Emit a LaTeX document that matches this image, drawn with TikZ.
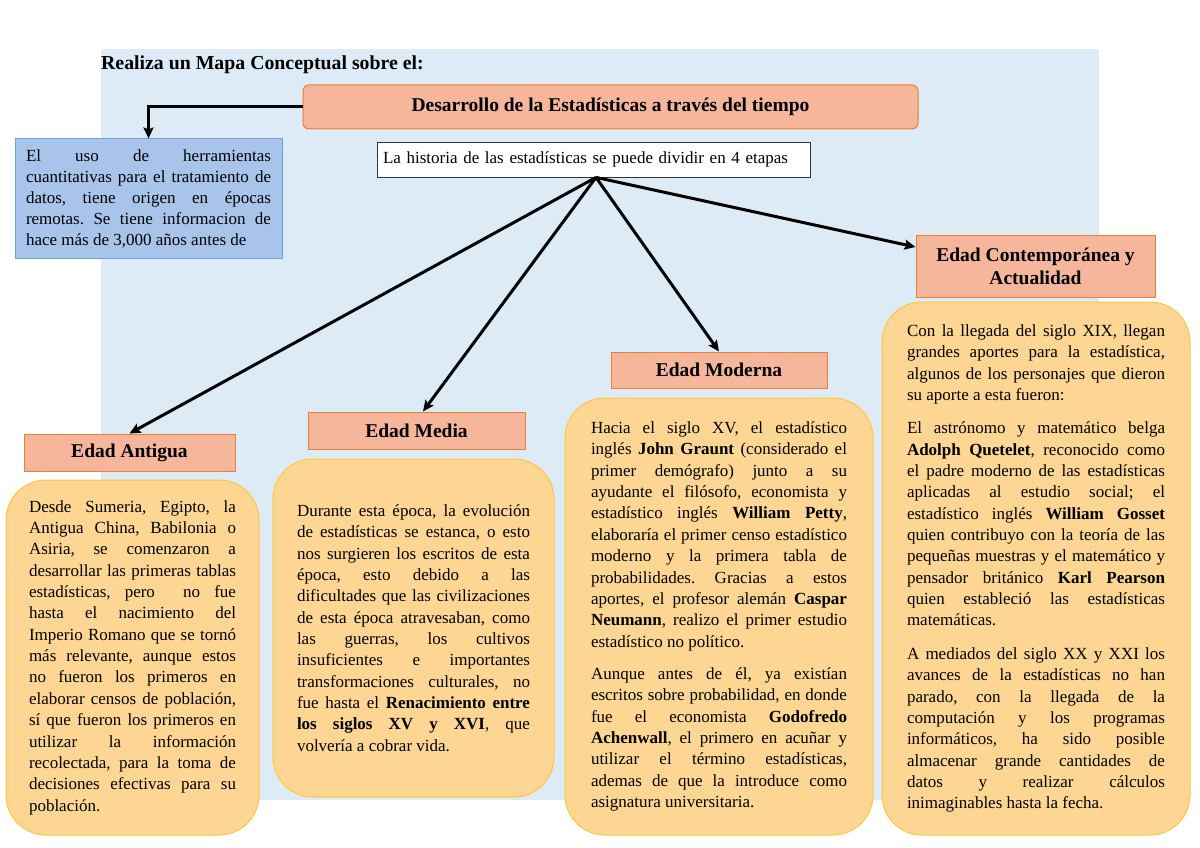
\documentclass[tikz,border=0pt]{standalone}
\usepackage{fontspec}
\setmainfont{Liberation Serif}
\usepackage{xcolor}
\usetikzlibrary{arrows.meta}
\definecolor{fondo}{RGB}{221,235,247}
\definecolor{salmon}{RGB}{245,182,155}
\definecolor{naranja}{RGB}{237,125,49}
\definecolor{crema}{RGB}{254,214,148}
\definecolor{dorado}{RGB}{255,197,60}
\definecolor{azulcaja}{RGB}{169,196,234}
\definecolor{azulborde}{RGB}{112,158,214}
\tolerance=10000
\hbadness=10000
\frenchspacing
\setlength{\parindent}{0pt}

\begin{document}
\begin{tikzpicture}[x=1pt, y=-1pt,
    etapa/.style={rectangle, draw=naranja, fill=salmon, line width=1pt,
                  inner sep=0pt, align=center,
                  font=\fontsize{19.5}{23}\selectfont\bfseries},
    textobox/.style={rectangle, rounded corners=40pt, draw=dorado, fill=crema,
                     line width=1pt, inner sep=0pt, align=justify,
                     font=\fontsize{17}{21.36}\selectfont},
    flecha/.style={->, line width=3pt},
  ]
\tikzset{>={Stealth[length=11pt, width=10pt, inset=2pt]}}
  \useasboundingbox (0,0) rectangle (1200,848);
  \fill[fondo] (101,49) rectangle (1099,800);

  \node[anchor=base west, inner sep=0pt, font=\fontsize{19.8}{23}\selectfont\bfseries]
    (titulo) at (101,70) {Realiza un Mapa Conceptual sobre el:};
  \node[etapa, rounded corners=6pt, minimum width=615pt, minimum height=44pt]
    (desarrollo) at (610.5,107) {Desarrollo de la Estadísticas a través del tiempo};
  \node[rectangle, draw=black!80, fill=white, line width=0.8pt, inner sep=0pt,
        minimum width=433pt, minimum height=35pt, text width=421pt, align=left,
        font=\fontsize{17}{20}\selectfont]
    (historia) at (593.5,159.5) {La historia de las estadísticas se puede dividir en 4 etapas};
  \node[rectangle, draw=azulborde, fill=azulcaja, line width=1pt, inner sep=0pt,
        minimum width=267pt, minimum height=119pt, text width=245pt, align=justify,
        font=\fontsize{17}{21}\selectfont]
    (uso) at (148.5,198.5) {El uso de herramientas\linebreak
      cuantitativas para el tratamiento de\linebreak
      datos, tiene origen en épocas\linebreak
      remotas. Se tiene informacion de\linebreak
      hace más de 3,000 años antes de\parfillskip=0pt};

  % etapas
  \node[etapa, minimum width=211pt, minimum height=37pt] (antigua) at (129.5,452.5) {Edad Antigua};
  \node[etapa, minimum width=217pt, minimum height=37pt] (media) at (416.5,430.5) {Edad Media};
  \node[etapa, minimum width=216pt, minimum height=36pt] (moderna) at (719,370) {Edad Moderna};
  \node[etapa, minimum width=239pt, minimum height=62pt] (contemp) at (1035.5,266)
    {Edad Contemporánea y\\Actualidad};

  % textos de cada etapa
  \node[textobox, minimum width=253pt, minimum height=355pt, text width=207pt]
    (txtantigua) at (132.5,657.5) {Desde Sumeria, Egipto, la\linebreak
      Antigua China, Babilonia o\linebreak
      Asiria, se comenzaron a\linebreak
      desarrollar las primeras tablas\linebreak
      estadísticas, pero\ \ no fue\linebreak
      hasta el nacimiento del\linebreak
      Imperio Romano que se tornó\linebreak
      más relevante, aunque estos\linebreak
      no fueron los primeros en\linebreak
      elaborar censos de población,\linebreak
      sí que fueron los primeros en\linebreak
      utilizar la información\linebreak
      recolectada, para la toma de\linebreak
      decisiones efectivas para su\linebreak
      población.};
  \node[textobox, minimum width=281pt, minimum height=338pt, text width=233pt]
    (txtmedia) at (413.5,628) {Durante esta época, la evolución\linebreak
      de estadísticas se estanca, o esto\linebreak
      nos surgieren los escritos de esta\linebreak
      época, esto debido a las\linebreak
      dificultades que las civilizaciones\linebreak
      de esta época atravesaban, como\linebreak
      las guerras, los cultivos\linebreak
      insuficientes e importantes\linebreak
      transformaciones culturales, no\linebreak
      fue hasta el \textbf{Renacimiento entre\linebreak
      los siglos XV y XVI}, que\linebreak
      volvería a cobrar vida.};
  \node[textobox, minimum width=308pt, minimum height=437pt, text width=256pt]
    (txtmoderna) at (719,616.5) {Hacia el siglo XV, el estadístico\linebreak
      inglés \textbf{John Graunt} (considerado el\linebreak
      primer demógrafo) junto a su\linebreak
      ayudante el filósofo, economista y\linebreak
      estadístico inglés \textbf{William Petty},\linebreak
      elaboraría el primer censo estadístico\linebreak
      moderno y la primera tabla de\linebreak
      probabilidades. Gracias a estos\linebreak
      aportes, el profesor alemán \textbf{Caspar\linebreak
      Neumann}, realizo el primer estudio\linebreak
      estadístico no político.\par\vspace{11pt}
      Aunque antes de él, ya existían\linebreak
      escritos sobre probabilidad, en donde\linebreak
      fue el economista \textbf{Godofredo\linebreak
      Achenwall}, el primero en acuñar y\linebreak
      utilizar el término estadísticas,\linebreak
      ademas de que la introduce como\linebreak
      asignatura universitaria.};
  \node[textobox, minimum width=308pt, minimum height=533pt, text width=258pt]
    (txtcontemp) at (1036,568.5) {Con la llegada del siglo XIX, llegan\linebreak
      grandes aportes para la estadística,\linebreak
      algunos de los personajes que dieron\linebreak
      su aporte a esta fueron:\par\vspace{12pt}
      El astrónomo y matemático belga\linebreak
      \textbf{Adolph Quetelet}, reconocido como\linebreak
      el padre moderno de las estadísticas\linebreak
      aplicadas al estudio social; el\linebreak
      estadístico inglés \textbf{William Gosset}\linebreak
      quien contribuyo con la teoría de las\linebreak
      pequeñas muestras y el matemático y\linebreak
      pensador británico \textbf{Karl Pearson}\linebreak
      quien estableció las estadísticas\linebreak
      matemáticas.\par\vspace{12pt}
      A mediados del siglo XX y XXI los\linebreak
      avances de la estadísticas no han\linebreak
      parado, con la llegada de la\linebreak
      computación y los programas\linebreak
      informáticos, ha sido posible\linebreak
      almacenar grande cantidades de\linebreak
      datos y realizar cálculos\linebreak
      inimaginables hasta la fecha.};

  % conectores
  \coordinate (origen) at ([xshift=2.5pt]historia.south);
  \draw[flecha] (desarrollo.west) -| (uso.north);
  \draw[flecha] (origen) -- (antigua.north);
  \draw[flecha] (origen) -- ([xshift=6.5pt]media.north);
  \draw[flecha] (origen) -- (moderna.north);
  \draw[flecha] (origen) -- ([yshift=19pt]contemp.west);
\end{tikzpicture}
\end{document}
